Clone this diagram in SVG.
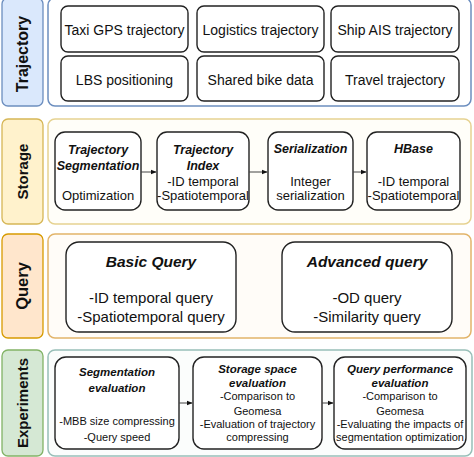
<svg xmlns="http://www.w3.org/2000/svg" width="474" height="457" viewBox="0 0 474 457">
<defs>
<style>
text{font-family:"Liberation Sans",Arial,sans-serif;fill:#111;text-anchor:middle}
.lab{font-weight:bold;font-size:16px}
.box{fill:#fff;stroke:#222;stroke-width:1.4}
.t14{font-size:14px}
.t13{font-size:13px}
.h13{font-size:12.5px;font-weight:bold;font-style:italic}
.t15{font-size:15px}
.h15{font-size:15.5px;font-weight:bold;font-style:italic}
.t11{font-size:11px}
.h11{font-size:11.5px;font-weight:bold;font-style:italic}
.arr{stroke:#444;stroke-width:1;fill:none;marker-end:url(#ah)}
</style>
<marker id="ah" viewBox="0 0 10 10" refX="9" refY="5" markerWidth="6" markerHeight="6" orient="auto" markerUnits="userSpaceOnUse">
<path d="M0,1 L10,5 L0,9 Z" fill="#111"/>
</marker>
</defs>
<rect width="474" height="457" fill="#fff"/>

<g id="trajectory">
<rect x="2" y="-2" width="41" height="108" rx="6" fill="#dae8fc" stroke="#6c8ebf" stroke-width="1.3"/>
<text class="lab" transform="translate(28,54) rotate(-90)">Trajectory</text>
<rect x="48" y="-2" width="423" height="108" rx="7" fill="#fff" stroke="#6c8ebf" stroke-width="1.5"/>
</g>
<g id="taxi"><rect class="box" x="61" y="6" width="127" height="46" rx="7"/><text class="t14" x="124.5" y="35">Taxi GPS trajectory</text></g>
<g id="logistics"><rect class="box" x="197" y="6" width="127" height="46" rx="7"/><text class="t14" x="260.5" y="35">Logistics trajectory</text></g>
<g id="ship"><rect class="box" x="331" y="6" width="128" height="46" rx="7"/><text class="t14" x="395" y="35">Ship AIS trajectory</text></g>
<g id="lbs"><rect class="box" x="61" y="56" width="127" height="45" rx="7"/><text class="t14" x="124.5" y="85">LBS positioning</text></g>
<g id="bike"><rect class="box" x="197" y="56" width="127" height="45" rx="7"/><text class="t14" x="260.5" y="85">Shared bike data</text></g>
<g id="travel"><rect class="box" x="331" y="56" width="128" height="45" rx="7"/><text class="t14" x="395" y="85">Travel trajectory</text></g>

<g id="storage">
<rect x="2" y="119" width="41" height="105" rx="6" fill="#fff2cc" stroke="#d6b656" stroke-width="1.3"/>
<text class="lab" style="font-size:15px" transform="translate(28,171.5) rotate(-90)">Storage</text>
<rect x="48" y="119" width="423" height="105" rx="7" fill="#fffef9" stroke="#e6d291" stroke-width="1.5"/>
</g>
<g id="segmentation"><rect class="box" x="55" y="132" width="86" height="78" rx="10"/>
<text class="h13" x="98" y="153.5">Trajectory</text><text class="h13" x="98" y="169.5">Segmentation</text><text class="t13" x="98" y="199.5">Optimization</text></g>
<g id="index"><rect class="box" x="157" y="132" width="92" height="78" rx="10"/>
<text class="h13" x="203" y="153.5">Trajectory</text><text class="h13" x="203" y="169.5">Index</text><text class="t13" x="203" y="185.5">-ID temporal</text><text class="t13" x="203" y="199.5">-Spatiotemporal</text></g>
<g id="serialization"><rect class="box" x="268" y="132" width="85" height="78" rx="10"/>
<text class="h13" x="310.5" y="152.5">Serialization</text><text class="t13" x="310.5" y="185.5">Integer</text><text class="t13" x="310.5" y="199.5">serialization</text></g>
<g id="hbase"><rect class="box" x="367" y="132" width="93" height="78" rx="10"/>
<text class="h13" x="413.5" y="152.5">HBase</text><text class="t13" x="413.5" y="185.5">-ID temporal</text><text class="t13" x="413.5" y="199.5">-Spatiotemporal</text></g>

<g id="query">
<rect x="2" y="234" width="41" height="104" rx="6" fill="#ffe6cc" stroke="#d79b00" stroke-width="1.3"/>
<text class="lab" style="font-size:16.5px" transform="translate(28,286) rotate(-90)">Query</text>
<rect x="48" y="234" width="423" height="104" rx="7" fill="#fffcf8" stroke="#e2b46a" stroke-width="1.5"/>
</g>
<g id="basic"><rect class="box" x="66" y="242" width="170" height="90" rx="13"/>
<text class="h15" x="151" y="266.5">Basic Query</text><text class="t15" x="151" y="303">-ID temporal query</text><text class="t15" x="151" y="321.5">-Spatiotemporal query</text></g>
<g id="advanced"><rect class="box" x="282" y="242" width="170" height="90" rx="13"/>
<text class="h15" x="367" y="266.5">Advanced query</text><text class="t15" x="367" y="303">-OD query</text><text class="t15" x="367" y="321.5">-Similarity query</text></g>

<g id="experiments">
<rect x="2" y="350" width="41" height="106" rx="6" fill="#d5e8d4" stroke="#82b366" stroke-width="1.3"/>
<text class="lab" style="font-size:15px" transform="translate(28,403) rotate(-90)">Experiments</text>
<rect x="48" y="350" width="424" height="106" rx="7" fill="#fbfdfc" stroke="#98bfb8" stroke-width="1.5"/>
</g>
<g id="seg-eval"><rect class="box" x="55" y="357" width="124" height="92" rx="11"/>
<text class="h11" x="117" y="376">Segmentation</text><text class="h11" x="117" y="392">evaluation</text><text class="t11" x="117" y="425">-MBB size compressing</text><text class="t11" x="117" y="441">-Query speed</text></g>
<g id="space-eval"><rect class="box" x="193" y="357" width="129" height="92" rx="11"/>
<text class="h11" x="257.5" y="373">Storage space</text><text class="h11" x="257.5" y="387">evaluation</text><text class="t11" x="257.5" y="400">-Comparison to</text><text class="t11" x="257.5" y="415">Geomesa</text><text class="t11" x="257.5" y="428">-Evaluation of trajectory</text><text class="t11" x="257.5" y="441">compressing</text></g>
<g id="perf-eval"><rect class="box" x="334" y="357" width="132" height="92" rx="11"/>
<text class="h11" x="400" y="373">Query performance</text><text class="h11" x="400" y="387">evaluation</text><text class="t11" x="400" y="400">-Comparison to</text><text class="t11" x="400" y="415">Geomesa</text><text class="t11" x="400" y="428">-Evaluating the impacts of</text><text class="t11" x="400" y="441">segmentation optimization</text></g>

<g id="connectors">
<line class="arr" x1="141" y1="172" x2="156" y2="172"/>
<line class="arr" x1="249" y1="172" x2="267" y2="172"/>
<line class="arr" x1="353" y1="172" x2="366" y2="172"/>
<line class="arr" x1="179" y1="403" x2="192" y2="403"/>
<line class="arr" x1="322" y1="403" x2="333" y2="403"/>
</g>
</svg>
